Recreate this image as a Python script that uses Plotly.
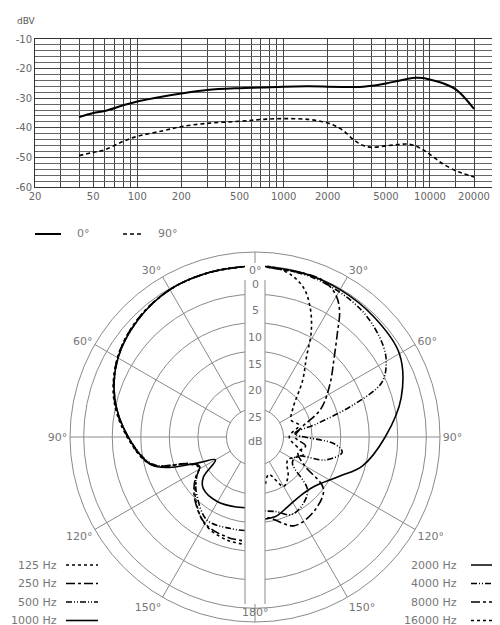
import plotly.graph_objects as go

# frequency response (dBV)
freq = [40, 50, 60, 80, 100, 150, 200, 300, 500, 700, 1000, 1500, 2000, 2500, 3000, 3500,
        4000, 5000, 6000, 7000, 8000, 9000, 10000, 12000, 15000, 17000, 20000]
resp_0 = [-36.4, -35.0, -34.3, -32.4, -31.1, -29.4, -28.4, -27.2, -26.6, -26.4, -26.1, -26.0,
          -26.1, -26.2, -26.2, -26.1, -25.8, -25.0, -24.2, -23.5, -23.1, -23.2, -23.7, -24.8,
          -27.0, -29.5, -33.6]
resp_90 = [-49.4, -48.3, -47.4, -44.6, -42.9, -41.0, -39.6, -38.5, -37.8, -37.2, -36.9, -37.2,
           -38.4, -40.6, -44.0, -46.0, -46.6, -46.1, -45.7, -45.5, -46.2, -47.5, -49.0, -51.9,
           -54.5, -55.5, -56.6]

x_labels = [20, 50, 100, 200, 500, 1000, 2000, 5000, 10000, 20000]
x_minor = [30, 40, 60, 70, 80, 90, 300, 400, 600, 700, 800, 900, 3000, 4000, 6000, 7000,
           8000, 9000, 15000]
y_labels = [-10, -20, -30, -40, -50, -60]

# polar pattern: angle (deg) and attenuation (dB)
ang_lo = [0, 15, 30, 45, 60, 75, 90, 105, 112, 118, 125, 135, 150, 165, 180]
att_125 = [0, 0.1, 0.2, 0.9, 2.2, 4.4, 7.6, 11.2, 17.3, 18.8, 17.5, 15.2, 12.4, 11.3, 11.0]
att_250 = [0, 0.1, 0.2, 0.9, 2.2, 4.5, 7.7, 11.3, 17.5, 19.0, 17.2, 15.0, 12.5, 11.8, 11.6]
att_500 = [0, 0.1, 0.2, 1.0, 2.3, 4.6, 7.8, 11.5, 17.6, 19.0, 17.4, 15.6, 13.2, 13.4, 13.5]
ang_1k = [0, 15, 30, 45, 60, 75, 90, 105, 110, 115, 120, 128, 135, 150, 165, 180]
att_1k = [0, 0.1, 0.2, 1.0, 2.3, 4.6, 7.8, 11.2, 14.5, 19.5, 22.0, 18.5, 17.2, 16.9, 17.3, 17.6]

ang_2k = [0, 15, 30, 45, 60, 75, 90, 105, 115, 130, 143, 155, 166, 180]
att_2k = [0, 0.1, 0.2, 0.4, 0.8, 3.5, 7.2, 10.5, 13.7, 16.5, 17.0, 16.5, 15.6, 15.5]
ang_4k = [0, 20, 40, 55, 62, 67, 72, 78, 85, 95, 100, 108, 115, 125, 135, 145, 155, 165, 180]
att_4k = [0, 0.3, 1.0, 2.5, 4.0, 6.0, 12.0, 19.0, 23.0, 16.0, 14.5, 17.0, 22.0, 22.0, 17.0,
          15.5, 15.0, 16.5, 17.0]
ang_8k = [0, 20, 25, 30, 34, 38, 45, 55, 67, 80, 90, 100, 110, 120, 127, 140, 156, 170, 180]
att_8k = [0, 0, 0.3, 1.5, 3.5, 6.5, 10.4, 14.0, 17.5, 22.0, 23.0, 21.0, 22.0, 20.0, 15.0,
          13.5, 13.0, 15.6, 16.0]
ang_16k = [0, 6, 12, 18, 23, 28, 33, 40, 53, 65, 75, 90, 110, 125, 140, 150, 160, 170, 180]
att_16k = [0, 0.1, 0.8, 2.5, 5.3, 9.0, 13.5, 17.0, 21.7, 23.0, 22.0, 24.0, 21.0, 23.0, 21.0,
           20.0, 23.0, 21.0, 20.0]

db_rings = [0, 5, 10, 15, 20, 25]

GREY = "#8a8a8a"
TXT = "#777"
FONT = dict(family="DejaVu Sans", size=10, color="#666")
DOTDASH2 = "6px,2px,1px,2px,1px,2px"
CY = 433      # polar centre, px from top
RPX = 160.0   # radius of the 0 dB ring, px

fig = go.Figure()
fig.add_trace(go.Scatter(x=freq, y=resp_0, mode="lines", line=dict(color="black", width=2, shape="spline")))
fig.add_trace(go.Scatter(x=freq, y=resp_90, mode="lines",
                         line=dict(color="black", width=1.6, dash="4px,3px", shape="spline")))

def polar_line(ang, att, side, dash, width=1.6):
    th = [a * side for a in ang]
    r = [30 - v for v in att]
    fig.add_trace(go.Scatterpolar(theta=th, r=r, mode="lines",
                                  line=dict(color="black", width=width, dash=dash, shape="spline")))

polar_line(ang_lo, att_125, -1, "dot")
polar_line(ang_lo, att_250, -1, "dashdot")
polar_line(ang_lo, att_500, -1, DOTDASH2)
polar_line(ang_1k, att_1k, -1, "solid")
polar_line(ang_2k, att_2k, 1, "solid")
polar_line(ang_4k, att_4k, 1, DOTDASH2)
polar_line(ang_8k, att_8k, 1, "dashdot")
polar_line(ang_16k, att_16k, 1, "dot")

ang_text = ["", "30°", "60°", "90°", "120°", "150°", "", "150°", "120°", "90°", "60°", "30°"]

fig.update_layout(
    width=500, height=625, showlegend=False, plot_bgcolor="white", paper_bgcolor="white",
    margin=dict(l=0, r=0, t=0, b=0), font=FONT,
    xaxis=dict(type="log", domain=[0.054, 0.984], range=[1.30103, 4.4786],
               tickvals=x_labels + [30000], ticktext=[str(v) for v in x_labels] + ["Hz"],
               tickangle=0, automargin=False,
               showgrid=True, gridcolor="#444", gridwidth=0.6,
               minor=dict(tickvals=x_minor, showgrid=True, gridcolor="#444", gridwidth=0.6, ticklen=0),
               showline=True, linecolor="#333", mirror=True, ticks="", zeroline=False),
    yaxis=dict(domain=[1 - 179 / 625, 1 - 31 / 625], range=[-60, -10],
               tickvals=y_labels, ticktext=[str(v) for v in y_labels], automargin=False,
               showgrid=True, gridcolor="#444", gridwidth=0.6,
               minor=dict(dtick=2, showgrid=True, gridcolor="#666", gridwidth=0.5),
               showline=True, linecolor="#333", mirror=True, ticks="", zeroline=False),
    polar=dict(
        domain=dict(x=[62 / 500, 432 / 500], y=[11 / 625, 381 / 625]),
        hole=5 / 32.4, bgcolor="white",
        radialaxis=dict(range=[5, 32.4], tickvals=[30 - d for d in db_rings], showticklabels=False,
                        ticks="", showline=False, gridcolor=GREY, gridwidth=1),
        angularaxis=dict(direction="clockwise", rotation=90, tickvals=list(range(0, 360, 30)),
                         ticktext=ang_text, ticks="", showline=True, linecolor=GREY,
                         gridcolor=GREY, gridwidth=1, tickfont=dict(size=11, color=TXT)),
    ),
)

def px(x, y):
    return x / 500, 1 - y / 625

shapes = []
# white strip through the polar plot
x0, y0 = px(237, 255)
x1, y1 = px(257, 596)
shapes.append(dict(type="rect", xref="paper", yref="paper", x0=x0, x1=x1, y0=y1, y1=y0,
                   fillcolor="white", line=dict(width=0), layer="above"))
for xx in (237, 257):
    a, b = px(xx, 272)
    _, c = px(xx, 596)
    shapes.append(dict(type="line", xref="paper", yref="paper", x0=a, x1=a, y0=c, y1=b,
                       line=dict(color=GREY, width=1), layer="above"))

ann = []
def note(x, y, text, size=11, color=TXT, anchor="center"):
    a, b = px(x, y)
    ann.append(dict(x=a, y=b, xref="paper", yref="paper", text=text, showarrow=False,
                    xanchor=anchor, yanchor="middle", font=dict(size=size, color=color)))

for d in db_rings:
    note(247, CY - RPX * (30 - d) / 30 + 3, str(d))
note(247, CY, "dB")
note(247, 262, "0°")
note(247, 604, "180°")
note(18, 13, "dBV", 9, "#555")

# legends
def leg(x_line0, x_line1, y, dash, label, x_text, anchor, width=1.6):
    a0, b = px(x_line0, y)
    a1, _ = px(x_line1, y)
    shapes.append(dict(type="line", xref="paper", yref="paper", x0=a0, x1=a1, y0=b, y1=b,
                       line=dict(color="black", width=width, dash=dash)))
    note(x_text, y, label, anchor=anchor)

leg(27, 53, 226, "solid", "0°", 67, "left", 2)
leg(115, 135, 226, "4px,3px", "90°", 148, "left")
for i, (lab, dash) in enumerate([("125 Hz", "dot"), ("250 Hz", "dashdot"),
                                  ("500 Hz", DOTDASH2), ("1000 Hz", "solid")]):
    leg(58, 90, 557 + 18.5 * i, dash, lab, 51, "right")
for i, (lab, dash) in enumerate([("2000 Hz", "solid"), ("4000 Hz", DOTDASH2),
                                  ("8000 Hz", "dashdot"), ("16000 Hz", "dot")]):
    leg(463, 496, 557 + 18.5 * i, dash, lab, 451, "right")

fig.update_layout(shapes=shapes, annotations=ann)
fig.write_html("out.html")
